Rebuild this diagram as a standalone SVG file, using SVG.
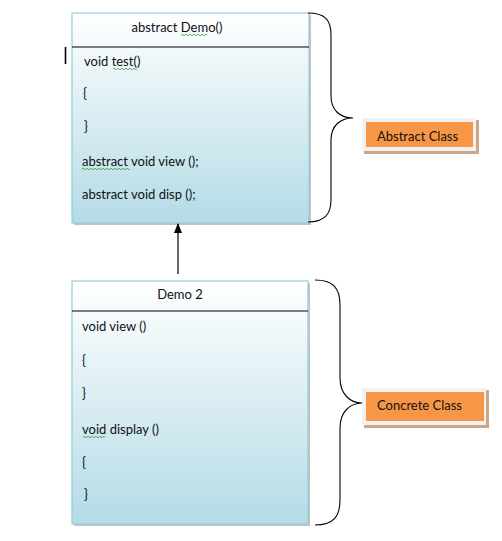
<svg xmlns="http://www.w3.org/2000/svg" width="502" height="541" viewBox="0 0 502 541">
<defs>
<linearGradient id="cls" x1="0" y1="0" x2="0" y2="1">
<stop offset="0" stop-color="#ffffff"/>
<stop offset="1" stop-color="#b4dbe6"/>
</linearGradient>
<marker id="arr" markerWidth="10" markerHeight="10" refX="9" refY="5" orient="auto" markerUnits="userSpaceOnUse" viewBox="0 0 10 10">
<path d="M0,1 L10,5 L0,9 Z" fill="#000"/>
</marker>
</defs>
<style>
.box{fill:url(#cls);stroke:#93cddd;stroke-width:1.2}
.shadow{fill:#9a9a9a;opacity:0.6}
.sep{stroke:#000;stroke-width:1.2}
text{font-family:Lato,"Open Sans","Liberation Sans",sans-serif;font-size:13px;fill:#111}
.brace{fill:none;stroke:#000;stroke-width:1.1}
.frame{fill:#f2f2f2}
.fshadow{fill:#cba78a}
.tag{fill:#f79646}
.sq{fill:none;stroke:#3a9a3a;stroke-width:0.8}
</style>
<rect width="502" height="541" fill="#fff"/>
<g id="abstract-demo">
<rect class="shadow" x="74" y="15" width="237" height="210"/>
<rect class="box" x="72" y="13" width="237" height="210"/>
<line class="sep" x1="72" y1="47" x2="309" y2="47"/>
<text x="177" y="32" text-anchor="middle">abstract Demo()</text>
<path class="sq" d="M181,35 q1,-1.5 2,0 t2,0 t2,0 t2,0 t2,0 t2,0 t2,0 t2,0 t2,0 t2,0 t2,0 t2,0 t2,0"/>
<text x="84" y="66">void test()</text>
<path class="sq" d="M113,69 q1,-1.5 2,0 t2,0 t2,0 t2,0 t2,0 t2,0 t2,0 t2,0 t2,0 t2,0 t2,0 t2,0"/>
<text x="83" y="98">{</text>
<text x="84" y="131">}</text>
<text x="82" y="166">abstract void view ();</text>
<path class="sq" d="M82,169 q1,-1.5 2,0 t2,0 t2,0 t2,0 t2,0 t2,0 t2,0 t2,0 t2,0 t2,0 t2,0 t2,0 t2,0 t2,0 t2,0 t2,0 t2,0 t2,0 t2,0 t2,0 t2,0 t2,0 t2,0 t2,0"/>
<text x="82" y="199">abstract void disp ();</text>
</g>
<line x1="65.5" y1="47" x2="65.5" y2="64" stroke="#000" stroke-width="1.6"/>
<g id="demo2">
<rect class="shadow" x="74" y="283" width="236" height="243"/>
<rect class="box" x="72" y="281" width="236" height="243"/>
<line class="sep" x1="72" y1="311" x2="308" y2="311"/>
<text x="180" y="299" text-anchor="middle">Demo 2</text>
<text x="82" y="331">void view ()</text>
<text x="82" y="365">{</text>
<text x="82" y="398">}</text>
<text x="82" y="434">void display ()</text>
<path class="sq" d="M83,437 q1,-1.5 2,0 t2,0 t2,0 t2,0 t2,0 t2,0 t2,0 t2,0 t2,0 t2,0 t2,0"/>
<text x="82" y="467">{</text>
<text x="84" y="499">}</text>
</g>
<g id="connectors">
<line x1="178" y1="274" x2="178" y2="224" stroke="#000" stroke-width="1.2" marker-end="url(#arr)"/>
<path class="brace" d="M308,13 C325,13 331,20 331,35 L331,96 C331,110 340,118 353,118 C340,118 331,126 331,140 L331,200 C331,214 325,222 308,222"/>
<path class="brace" stroke="#444" d="M315,280 C333,280 340,288 340,305 L340,378 C340,394 350,403 362,403 C350,403 340,412 340,428 L340,500 C340,517 333,525 315,525"/>
</g>
<g id="abstract-class-label">
<rect class="fshadow" x="364" y="120" width="115" height="34"/>
<rect class="frame" x="362" y="118" width="114" height="33"/>
<rect class="tag" x="366" y="122" width="107" height="25"/>
<text x="377" y="141">Abstract Class</text>
</g>
<g id="concrete-class-label">
<rect class="fshadow" x="364" y="390" width="125" height="38"/>
<rect class="frame" x="362" y="388" width="124" height="37"/>
<rect class="tag" x="366" y="392" width="118" height="29"/>
<text x="377" y="410">Concrete Class</text>
</g>
</svg>
